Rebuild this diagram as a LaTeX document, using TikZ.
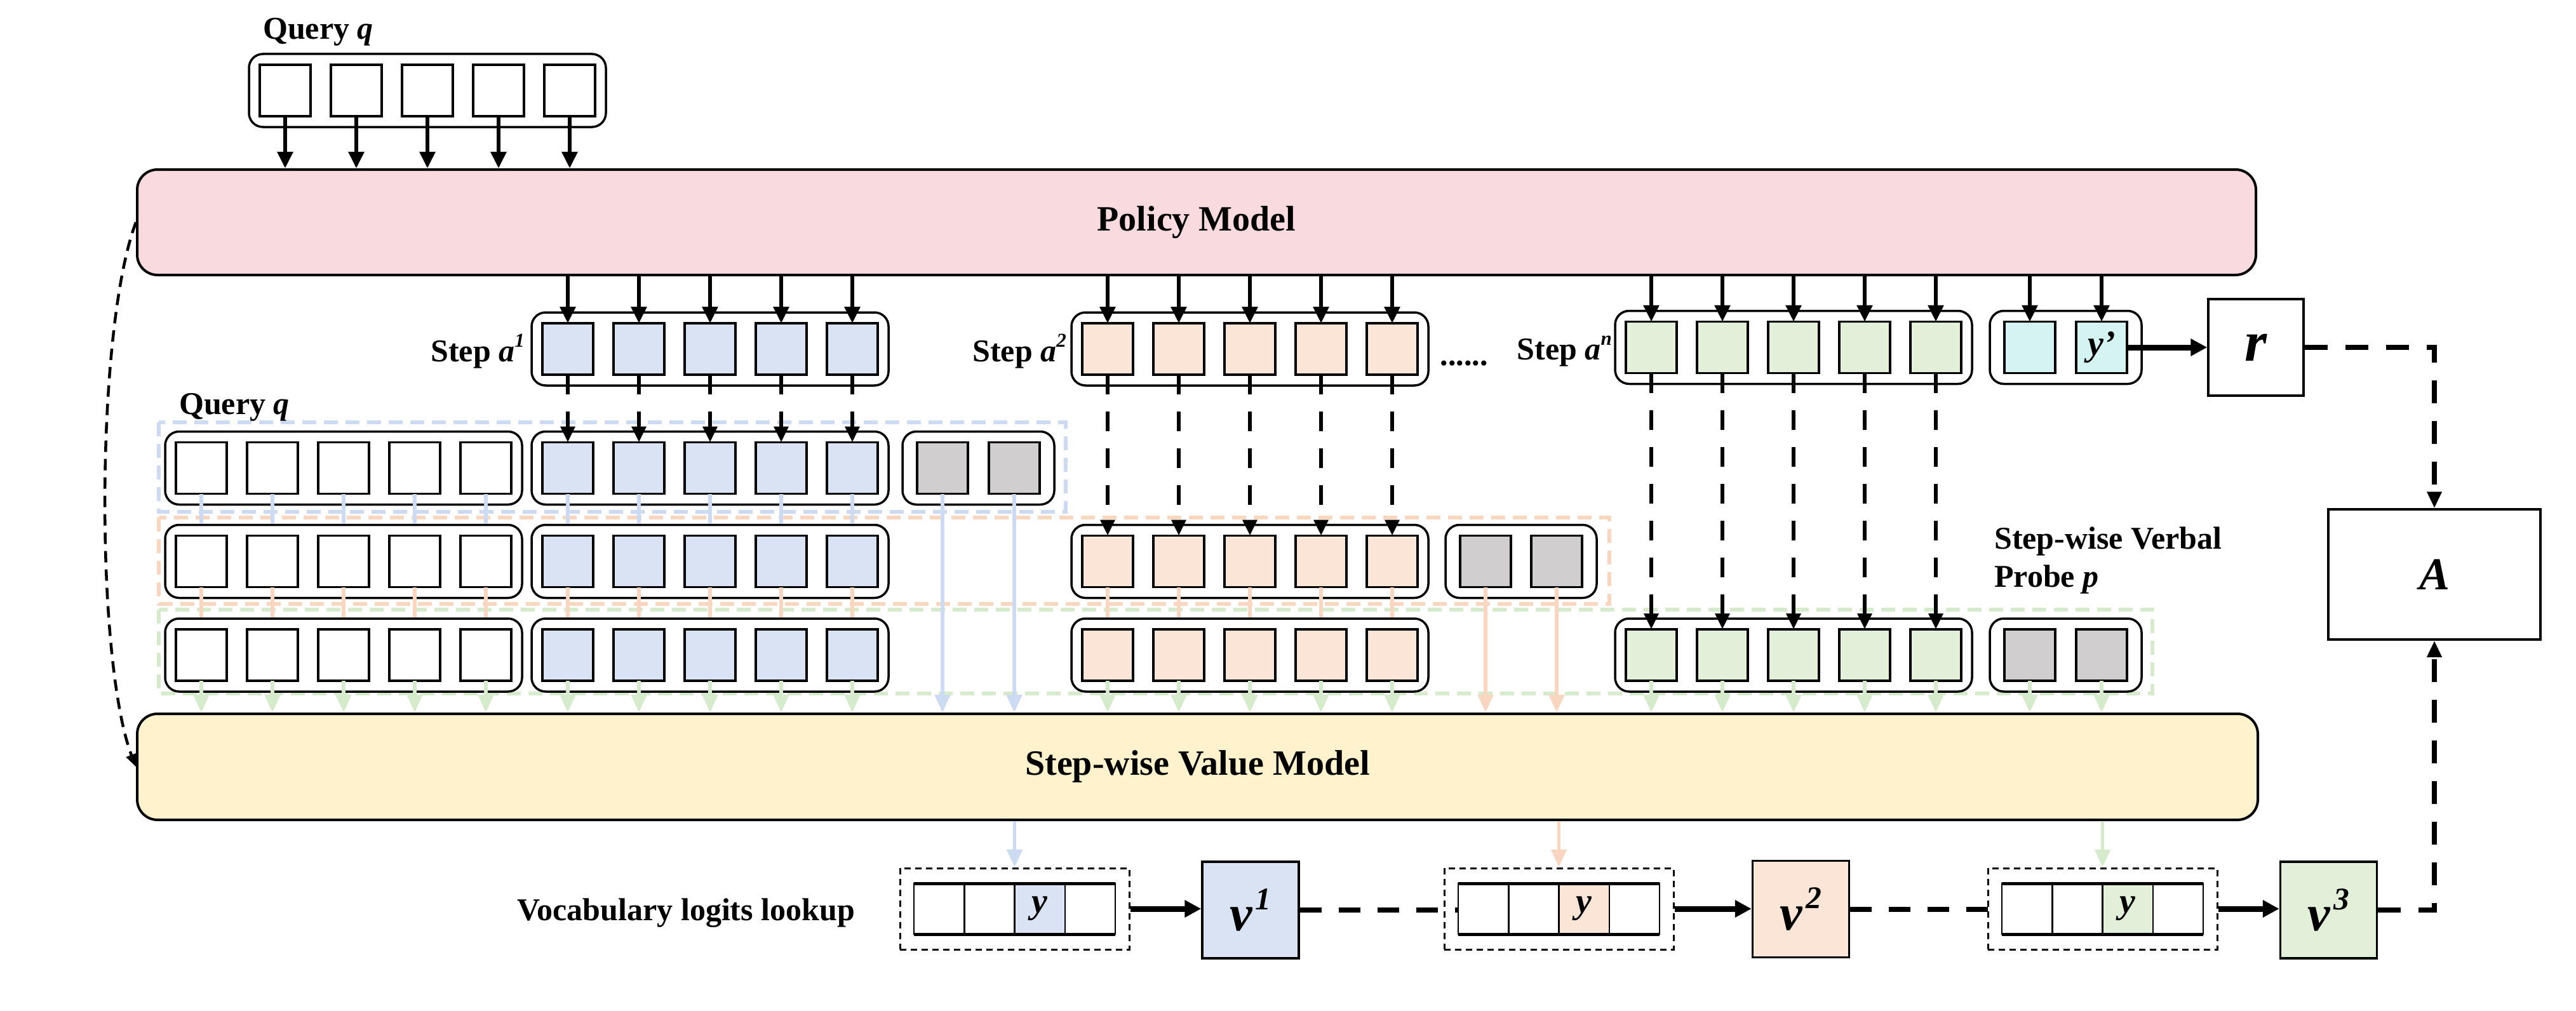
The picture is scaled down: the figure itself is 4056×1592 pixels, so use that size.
\documentclass[tikz,border=0pt]{standalone}
\usepackage{fontspec}
\usepackage{graphicx}
\setmainfont{Liberation Serif}
\usetikzlibrary{arrows.meta,fit,backgrounds}
\definecolor{pinkF}{HTML}{F9DADF}
\definecolor{yelF}{HTML}{FFF2CC}
\definecolor{bluF}{HTML}{DAE3F3}
\definecolor{oraF}{HTML}{FBE5D6}
\definecolor{grnF}{HTML}{E2F0D9}
\definecolor{gryF}{HTML}{D0CECE}
\definecolor{cyaF}{HTML}{D5F3F0}
\definecolor{bluL}{HTML}{CCDAF2}
\definecolor{oraL}{HTML}{F8D6C0}
\definecolor{grnL}{HTML}{D6EBCB}
\newcommand{\bi}[1]{\textbf{\textit{#1}}}
\newcommand{\supx}[1]{\raisebox{0.45em}{\scalebox{0.62}{#1}}}
\newcommand{\vsup}[1]{v\kern0.06em\raisebox{0.42em}{\scalebox{0.62}{#1}}}
\begin{document}
\begin{tikzpicture}[x=1pt,y=-1pt,
  sq/.style={draw,line width=3.5pt,minimum width=80pt,minimum height=81pt,inner sep=0pt,outer sep=0pt},
  grp/.style={draw,line width=3.5pt,rounded corners=22pt,fill=white},
  grpfive/.style={grp,inner sep=17pt},
  grptwo/.style={grp,inner xsep=23pt,inner ysep=17pt},
  lbl/.style={font=\fontsize{50}{60}\selectfont\bfseries,inner sep=0pt},
  bigbox/.style={draw,line width=4pt,rounded corners=32pt,inner sep=0pt,font=\fontsize{56}{60}\selectfont\bfseries},
  arr/.style={line width=6pt,-{Triangle[length=26pt,width=24pt]}},
  darr/.style={line width=6.5pt,dash pattern=on 31pt off 27pt,-{Triangle[length=25pt,width=22pt]}},
  cline/.style={line width=5.5pt},
  carr/.style={line width=5.5pt,-{Triangle[length=28pt,width=24pt]}},
  tarr/.style={line width=9pt,-{Triangle[length=26pt,width=26pt]}},
  tdash/.style={line width=8pt,dash pattern=on 34pt off 27pt},
  rdash/.style={line width=8pt,dash pattern=on 36pt off 28pt,-{Triangle[length=26pt,width=22pt]}},
  cdash/.style={line width=5.5pt,dash pattern=on 22pt off 12pt},
  vdash/.style={draw,line width=3pt,dash pattern=on 10pt off 7pt,inner xsep=22pt,inner ysep=24pt},
  cell/.style={draw,line width=2.5pt,minimum width=79.25pt,minimum height=80pt,inner sep=0pt,outer sep=0pt,font=\fontsize{56}{60}\selectfont\bfseries\itshape},
  vbox/.style={draw,line width=3.5pt,minimum width=152pt,minimum height=152pt,inner sep=0pt,font=\fontsize{80}{80}\selectfont\bfseries\itshape},
]
\useasboundingbox (0,0) rectangle (4056,1592);

% big model boxes
\node[bigbox,fill=pinkF,minimum width=3336pt,minimum height=166pt] (pol) at (1884,350) {Policy Model};
\node[bigbox,fill=yelF,minimum width=3339pt,minimum height=167pt] (val) at (1885.5,1207.5) {Step-wise Value Model};

% squares
\foreach \i in {1,...,5}{
  \node[sq] (tq\i) at ({449+112*(\i-1)},142.5) {};
  \node[sq,fill=bluF] (sa\i) at ({894+112*(\i-1)},549.5) {};
  \node[sq,fill=oraF] (sb\i) at ({1744+112*(\i-1)},549.5) {};
  \node[sq,fill=grnF] (sn\i) at ({2600+112*(\i-1)},547) {};
  \node[sq] (aq\i) at ({317+112*(\i-1)},737) {};
  \node[sq,fill=bluF] (aa\i) at ({894+112*(\i-1)},737) {};
  \node[sq] (bq\i) at ({317+112*(\i-1)},884) {};
  \node[sq,fill=bluF] (ba\i) at ({894+112*(\i-1)},884) {};
  \node[sq,fill=oraF] (bb\i) at ({1744+112*(\i-1)},884) {};
  \node[sq] (cq\i) at ({317+112*(\i-1)},1031.5) {};
  \node[sq,fill=bluF] (ca\i) at ({894+112*(\i-1)},1031.5) {};
  \node[sq,fill=oraF] (cb\i) at ({1744+112*(\i-1)},1031.5) {};
  \node[sq,fill=grnF] (cn\i) at ({2600+112*(\i-1)},1031.5) {};
}
\node[sq,fill=cyaF] (y1) at (3196,547) {};
\node[sq,fill=cyaF,font=\fontsize{56}{60}\selectfont\bfseries\itshape] (y2) at (3309,547) {y’};
\node[sq,fill=gryF] (ag1) at (1484,737) {};
\node[sq,fill=gryF] (ag2) at (1597,737) {};
\node[sq,fill=gryF] (bg1) at (2339,884) {};
\node[sq,fill=gryF] (bg2) at (2451,884) {};
\node[sq,fill=gryF] (cg1) at (3196,1031.5) {};
\node[sq,fill=gryF] (cg2) at (3309,1031.5) {};

% background: coloured dashed frames and group boxes
\begin{scope}[on background layer]
  \draw[cdash,bluL] (250,665) rectangle (1678,806);
  \draw[cdash,oraL] (250,815) rectangle (2534,951);
  \draw[cdash,grnL] (250,960) rectangle (3389,1092);
  \node[grpfive,fit=(tq1)(tq5)] (gtq) {};
  \node[grpfive,fit=(sa1)(sa5)] (gsa) {};
  \node[grpfive,fit=(sb1)(sb5)] (gsb) {};
  \node[grpfive,fit=(sn1)(sn5)] (gsn) {};
  \node[grptwo,fit=(y1)(y2)] (gy) {};
  \node[grpfive,fit=(aq1)(aq5)] (gaq) {};
  \node[grpfive,fit=(aa1)(aa5)] (gaa) {};
  \node[grptwo,fit=(ag1)(ag2)] (gag) {};
  \node[grpfive,fit=(bq1)(bq5)] (gbq) {};
  \node[grpfive,fit=(ba1)(ba5)] (gba) {};
  \node[grpfive,fit=(bb1)(bb5)] (gbb) {};
  \node[grptwo,fit=(bg1)(bg2)] (gbg) {};
  \node[grpfive,fit=(cq1)(cq5)] (gcq) {};
  \node[grpfive,fit=(ca1)(ca5)] (gca) {};
  \node[grpfive,fit=(cb1)(cb5)] (gcb) {};
  \node[grpfive,fit=(cn1)(cn5)] (gcn) {};
  \node[grptwo,fit=(cg1)(cg2)] (gcg) {};
\end{scope}

% labels
\node[lbl] (lq) at (501,50) {Query \bi{q}};
\node[lbl,anchor=east] (la1) at (826,553) {Step \bi{a}\supx{\bi{1}}};
\node[lbl] (lqb) at (369,641) {Query \bi{q}};
\node[lbl,anchor=east] (la2) at (1679,553) {Step \bi{a}\supx{\bi{2}}};
\node[lbl,anchor=base] (dots) at (2305,575) {......};
\node[lbl,anchor=east] (lan) at (2538,553) {Step \bi{a}\supx{\bi{n}}};
\node[lbl,anchor=north west,align=left] (lp) at (3140,830) {Step-wise Verbal\\Probe \bi{p}};
\node[lbl,anchor=west] (lv) at (814,1438) {Vocabulary logits lookup};

% black arrows
\foreach \i in {1,...,5}{
  \draw[arr] (tq\i.south) -- (tq\i.south |- pol.north);
  \draw[arr] (sa\i.north |- pol.south) -- (sa\i.north);
  \draw[arr] (sb\i.north |- pol.south) -- (sb\i.north);
  \draw[arr] (sn\i.north |- pol.south) -- (sn\i.north);
  \draw[darr] (sa\i.south) -- (aa\i.north);
  \draw[darr] (sb\i.south) -- (bb\i.north);
  \draw[darr] (sn\i.south) -- (cn\i.north);
}
\draw[arr] (y1.north |- pol.south) -- (y1.north);
\draw[arr] (y2.north |- pol.south) -- (y2.north);

% coloured connectors
\foreach \i in {1,...,5}{
  \draw[cline,bluL] (aq\i.south) -- (aq\i.south |- gbq.north);
  \draw[cline,bluL] (aa\i.south) -- (aa\i.south |- gba.north);
  \draw[cline,oraL] (bq\i.south) -- (bq\i.south |- gcq.north);
  \draw[cline,oraL] (ba\i.south) -- (ba\i.south |- gca.north);
  \draw[cline,oraL] (bb\i.south) -- (bb\i.south |- gcb.north);
  \draw[carr,grnL] (cq\i.south) -- (cq\i.south |- val.north);
  \draw[carr,grnL] (ca\i.south) -- (ca\i.south |- val.north);
  \draw[carr,grnL] (cb\i.south) -- (cb\i.south |- val.north);
  \draw[carr,grnL] (cn\i.south) -- (cn\i.south |- val.north);
}
\foreach \g in {1,2}{
  \draw[carr,bluL] (ag\g.south) -- (ag\g.south |- val.north);
  \draw[carr,oraL] (bg\g.south) -- (bg\g.south |- val.north);
  \draw[carr,grnL] (cg\g.south) -- (cg\g.south |- val.north);
}

% r and A
\node[draw,line width=3.5pt,minimum width=150pt,minimum height=152pt,inner sep=0pt,font=\fontsize{90}{90}\selectfont\bfseries\itshape] (rr) at (3552,547) {r};
\node[draw,line width=3.5pt,minimum width=334pt,minimum height=205pt,inner sep=0pt,font=\fontsize{72}{72}\selectfont\bfseries\itshape] (Abox) at (3833,904.5) {A};
\draw[tarr] (y2.east) -- (y2.east -| rr.west);
\draw[rdash] (rr.east) -- (rr.east -| Abox.north) -- (Abox.north);

% vocabulary lookup
\foreach \k/\cx/\col in {1/1597.5/bluF,2/2454.5/oraF,3/3310.5/grnF}{
  \foreach \j in {1,2,4}{
    \node[cell] (c\k-\j) at ({\cx+79.25*(\j-2.5)},1431) {};
  }
  \node[cell,fill=\col] (c\k-3) at ({\cx+79.25*0.5},1431) {y};
  \draw[line width=5pt] (c\k-1.north west) -- (c\k-4.north east);
  \draw[line width=5pt] (c\k-1.south west) -- (c\k-4.south east);
  \node[vdash,fit=(c\k-1)(c\k-4)] (vb\k) {};
}
\node[vbox,fill=bluF] (v1) at (1969,1433) {\vsup{1}};
\node[vbox,fill=oraF] (v2) at (2835.5,1431.5) {\vsup{2}};
\node[vbox,fill=grnF] (v3) at (3666.5,1433) {\vsup{3}};

\draw[carr,bluL] (vb1.north |- val.south) -- (vb1.north);
\draw[carr,oraL] (vb2.north |- val.south) -- (vb2.north);
\draw[carr,grnL] (vb3.north |- val.south) -- (vb3.north);

\draw[tarr] (vb1.east) -- (vb1.east -| v1.west);
\draw[tdash] (v1.east) -- (v1.east -| c2-1.west);
\draw[tarr] (vb2.east) -- (vb2.east -| v2.west);
\draw[tdash] (v2.east) -- (v2.east -| c3-1.west);
\draw[tarr] (vb3.east) -- (vb3.east -| v3.west);
\draw[rdash] (v3.east) -- (v3.east -| Abox.south) -- (Abox.south);

% curved feedback arrow
\draw[line width=4.5pt,dash pattern=on 18pt off 11pt,-{Triangle[length=20pt,width=17pt]}] (pol.west) .. controls (150,520) and (150,1040) .. (val.west);
\end{tikzpicture}
\end{document}
